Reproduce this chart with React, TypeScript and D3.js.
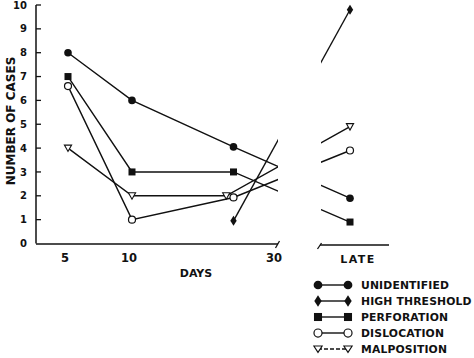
import React from 'react';
import * as d3 from 'd3';

// day positions on the axis; the late group sits past the break
const days = [5, 10, 24];
const malpositionDays = [5, 10, 23];
const lateDay = 40;
const xTicks = [5, 10, 30];
const yTicks = [0, 1, 2, 3, 4, 5, 6, 7, 8, 9, 10];

const unidentified = [8, 6, 4.05];
const unidentifiedLate = 1.9;
const highThreshold = [0.95];
const highThresholdLate = 9.8;
const perforation = [7, 3, 3];
const perforationLate = 0.9;
const dislocation = [6.6, 1, 1.93];
const dislocationLate = 3.9;
const malposition = [4, 2, 2];
const malpositionLate = 4.9;

const legendLabels = ['UNIDENTIFIED', 'HIGH THRESHOLD', 'PERFORATION', 'DISLOCATION', 'MALPOSITION'];

type Marker = 'dot' | 'diamond' | 'square' | 'ring' | 'tri';

const width = 474;
const height = 358;
const font = '"DejaVu Sans", sans-serif';

const xScale = d3.scaleLinear().domain([5, 10, 30, lateDay]).range([68, 132, 277, 350]);
const yScale = d3.scaleLinear().domain([0, 10]).range([243.5, 5]);

const series: { marker: Marker; x: number[]; y: number[]; late: number }[] = [
  { marker: 'dot', x: days, y: unidentified, late: unidentifiedLate },
  { marker: 'diamond', x: days.slice(2), y: highThreshold, late: highThresholdLate },
  { marker: 'square', x: days, y: perforation, late: perforationLate },
  { marker: 'ring', x: days, y: dislocation, late: dislocationLate },
  { marker: 'tri', x: malpositionDays, y: malposition, late: malpositionLate },
];

const drawMarker = (m: Marker, cx: number, cy: number, key: string, big = false) => {
  const s = big ? 1.15 : 1;
  switch (m) {
    case 'dot':
      return <circle key={key} cx={cx} cy={cy} r={3.8 * s} fill="#111" />;
    case 'ring':
      return <circle key={key} cx={cx} cy={cy} r={3.5 * s} fill="#fff" stroke="#111" strokeWidth={1.2} />;
    case 'square':
      return <rect key={key} x={cx - 3.5 * s} y={cy - 3.5 * s} width={7 * s} height={7 * s} fill="#111" />;
    case 'diamond':
      return (
        <path key={key} d={`M${cx},${cy - 5 * s}L${cx + 3.2 * s},${cy}L${cx},${cy + 5 * s}L${cx - 3.2 * s},${cy}Z`} fill="#111" />
      );
    case 'tri':
      return (
        <path key={key} d={`M${cx - 3.6 * s},${cy - 3}L${cx + 3.6 * s},${cy - 3}L${cx},${cy + 3.4}Z`} fill="#fff" stroke="#111" strokeWidth={1.1} />
      );
  }
};

const line = d3
  .line<[number, number]>()
  .x((d) => xScale(d[0]))
  .y((d) => yScale(d[1]));

export default function App() {
  const legendY = d3.scaleLinear().domain([0, 4]).range([285, 349]);
  return (
    <svg width={width} height={height} style={{ position: 'absolute', left: 0, top: 0, background: '#fff' }}>
      <defs>
        <clipPath id="brk">
          <rect x={0} y={0} width={278} height={height} />
          <rect x={321} y={0} width={width - 321} height={height} />
        </clipPath>
      </defs>

      {/* y axis */}
      <line x1={36} x2={36} y1={yScale(10)} y2={yScale(0)} stroke="#111" strokeWidth={1.5} />
      {yTicks.map((t) => (
        <g key={t}>
          {t > 0 && <line x1={36} x2={41} y1={yScale(t)} y2={yScale(t)} stroke="#111" strokeWidth={1.3} />}
          <text x={27} y={yScale(t)} dy="0.36em" textAnchor="end" fontFamily={font} fontWeight="bold" fontSize={10} fill="#111">
            {t}
          </text>
        </g>
      ))}
      <text transform="translate(15,121) rotate(-90)" textAnchor="middle" fontFamily={font} fontWeight="bold" fontSize={12} fill="#111">
        NUMBER OF CASES
      </text>

      {/* x axis with break */}
      <line x1={36} x2={278} y1={244} y2={244} stroke="#111" strokeWidth={1.5} />
      <line x1={275.5} x2={279.5} y1={248} y2={241} stroke="#111" strokeWidth={1.3} />
      <line x1={320} x2={389} y1={245} y2={245} stroke="#111" strokeWidth={1.5} />
      <line x1={317.5} x2={321.5} y1={249} y2={243} stroke="#111" strokeWidth={1.3} />
      {xTicks.map((t) => (
        <text key={t} x={xScale(t) - 3} y={262} textAnchor="middle" fontFamily={font} fontWeight="bold" fontSize={11.5} fill="#111">
          {t}
        </text>
      ))}
      <text x={196} y={277} textAnchor="middle" fontFamily={font} fontWeight="bold" fontSize={11} fill="#111">
        DAYS
      </text>
      <text x={358} y={263} textAnchor="middle" fontFamily={font} fontWeight="bold" fontSize={11} letterSpacing={1.5} fill="#111">
        LATE
      </text>

      {/* series */}
      <g clipPath="url(#brk)">
        {series.map((s, i) => {
          const pts: [number, number][] = s.x.map((x, j) => [x, s.y[j]]);
          pts.push([lateDay, s.late]);
          return <path key={i} d={line(pts) || ''} fill="none" stroke="#111" strokeWidth={1.4} />;
        })}
      </g>
      {series.map((s, i) => (
        <g key={i}>
          {s.x.map((x, j) => drawMarker(s.marker, xScale(x), yScale(s.y[j]), `${i}-${j}`))}
          {drawMarker(s.marker, xScale(lateDay), yScale(s.late), `${i}-late`)}
        </g>
      ))}

      {/* legend */}
      {series.map((s, i) => (
        <g key={i}>
          <line
            x1={318}
            x2={348}
            y1={legendY(i)}
            y2={legendY(i)}
            stroke="#111"
            strokeWidth={1.4}
            strokeDasharray={s.marker === 'tri' ? '4,2' : undefined}
          />
          {drawMarker(s.marker, 318, legendY(i), `l${i}a`, true)}
          {drawMarker(s.marker, 348, legendY(i), `l${i}b`, true)}
          <text x={361} y={legendY(i)} dy="0.37em" fontFamily={font} fontWeight="bold" fontSize={10.8} letterSpacing={0.15} fill="#111">
            {legendLabels[i]}
          </text>
        </g>
      ))}
    </svg>
  );
}
